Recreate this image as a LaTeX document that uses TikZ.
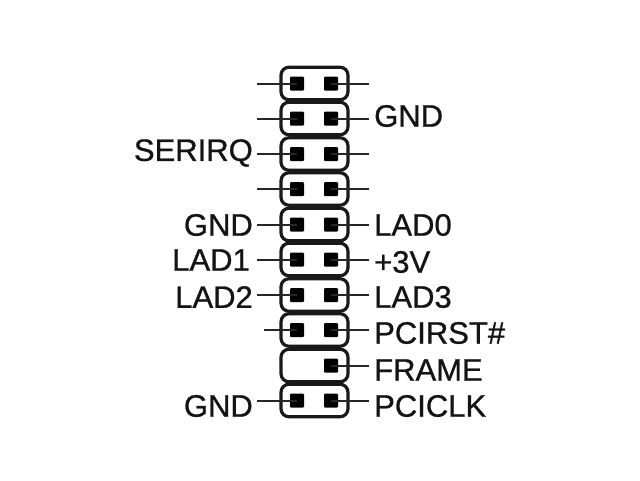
\documentclass[tikz,border=0pt]{standalone}
\usepackage{fontspec}
\setmainfont[FakeBold=0.8]{Liberation Sans}
\begin{document}
\begin{tikzpicture}[x=1pt,y=-1pt,
  hdr/.style={draw=black!90,line width=3.2pt,rounded corners=8pt,minimum width=67pt,minimum height=32.5pt,inner sep=0pt,fill=white},
  pin/.style={fill=black,minimum size=14pt,inner sep=0pt,rounded corners=1pt},
  lead/.style={draw=black!85,line width=2pt},
  lblr/.style={anchor=west,inner sep=0pt,font=\fontsize{31}{33}\selectfont,text=black!92},
  lbll/.style={anchor=east,inner sep=0pt,font=\fontsize{31}{33}\selectfont,text=black!92}]
\useasboundingbox (0,0) rectangle (640,480);
\fill[white] (0,0) rectangle (640,480);
% boxes
\node[hdr] (b1) at (314.5,83.5) {};
\node[hdr] (b2) at (314.5,118.5) {};
\node[hdr] (b3) at (314.5,154) {};
\node[hdr] (b4) at (314.5,189) {};
\node[hdr] (b5) at (314.5,224.5) {};
\node[hdr] (b6) at (314.5,259.5) {};
\node[hdr] (b7) at (314.5,295) {};
\node[hdr] (b8) at (314.5,330) {};
\node[hdr] (b9) at (314.5,365.5) {};
\node[hdr] (b10) at (314.5,400.5) {};
% pins
\foreach \n/\y in {1/83.5,2/118.5,3/154,4/189,5/224.5,6/259.5,7/295,8/330,10/400.5}
  \node[pin] (l\n) at (297,\y) {};
\foreach \n/\y in {1/83.5,2/118.5,3/154,4/189,5/224.5,6/259.5,7/295,8/330,9/365.5,10/400.5}
  \node[pin] (r\n) at (331,\y) {};
% free ends
\foreach \n/\y in {1/83.5,2/118.5,3/154,4/189,5/224.5,6/259.5,7/295,10/400.5}
  \coordinate (fl\n) at (257,\y);
\coordinate (fl8) at (264,330);
\foreach \n/\y in {1/83.5,2/118.5,3/154,4/189,5/224.5,6/259.5,7/295,8/330,9/365.5,10/400.5}
  \coordinate (fr\n) at (369,\y);
% leads
\foreach \n in {1,2,3,4,5,6,7,8,10}
  \draw[lead] (fl\n) -- (l\n.center);
\foreach \n in {1,...,10}
  \draw[lead] (r\n.center) -- (fr\n);
% labels
\node[lblr] (t2) at (374,116) {GND};
\node[lblr] (t5) at (374,225) {LAD0};
\node[lblr] (t6) at (374,262) {+3V};
\node[lblr] (t7) at (374,297) {LAD3};
\node[lblr] (t8) at (374,333) {PCIRST\#};
\node[lblr] (t9) at (374,370) {FRAME};
\node[lblr] (t10) at (374,406) {PCICLK};
\node[lbll] (s3) at (253,153) {SERIRQ};
\node[lbll] (s5) at (253,225) {GND};
\node[lbll] (s6) at (250,260) {LAD1};
\node[lbll] (s7) at (253,297) {LAD2};
\node[lbll] (s10) at (253,406) {GND};
\end{tikzpicture}
\end{document}
